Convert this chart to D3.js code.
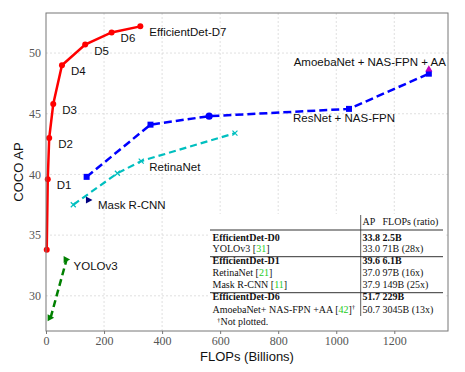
<!DOCTYPE html>
<meta charset="utf-8">
<script src="https://d3js.org/d3.v7.min.js"></script>
<style>
  body { margin: 0; background: #fff; }
</style>
<div id="my_dataviz"></div>
<script>

// ---- data ----
var effFlops = [2.5, 6.1, 11, 25, 55, 135, 226, 325];
var effAP    = [33.8, 39.6, 43.0, 45.8, 49.0, 50.7, 51.7, 52.2];
var effLabels = ["", "D1", "D2", "D3", "D4", "D5", "D6", "EfficientDet-D7"];

var nasFlops = [140, 360, 562, 1044, 1319];
var nasAP    = [39.8, 44.1, 44.8, 45.4, 48.3];

var retinaFlops = [94, 246, 328, 651];
var retinaAP    = [37.5, 40.1, 41.1, 43.4];

var maskFlops = [148];
var maskAP    = [37.9];

var yoloFlops = [16, 71];
var yoloAP    = [28.2, 33.0];

var amoebaFlops = [1319];
var amoebaAP    = [48.65];

var xTicks = [0, 200, 400, 600, 800, 1000, 1200];
var yTicks = [30, 35, 40, 45, 50];

// inset table
var tableNames = ["EfficientDet-D0", "YOLOv3", "EfficientDet-D1", "RetinaNet", "Mask R-CNN", "EfficientDet-D6", "AmoebaNet+ NAS-FPN +AA"];
var tableCites = ["", "31", "", "21", "11", "", "42"];
var tableAP    = ["33.8", "33.0", "39.6", "37.0", "37.9", "51.7", "50.7"];
var tableFlops = ["2.5B", "71B (28x)", "6.1B", "97B (16x)", "149B (25x)", "229B", "3045B (13x)"];
var tableBold  = [true, false, true, false, false, true, false];

// ---- layout ----
var W = 465, H = 372;
var plot = {left: 46, right: 448, top: 13, bottom: 331};

var svg = d3.select("#my_dataviz")
  .append("svg")
    .attr("width", W)
    .attr("height", H);

var x = d3.scaleLinear().domain([0, 1385]).range([plot.left, plot.right]);
var y = d3.scaleLinear().domain([27.1, 53.3]).range([plot.bottom, plot.top]);

// grid
svg.append("g").selectAll("line")
  .data(xTicks.slice(1))
  .enter().append("line")
    .attr("x1", function(d) { return x(d); })
    .attr("x2", function(d) { return x(d); })
    .attr("y1", plot.top).attr("y2", plot.bottom)
    .style("stroke", "#d8d8d8").style("stroke-width", 0.8)
    .style("stroke-dasharray", "2,2");
svg.append("g").selectAll("line")
  .data(yTicks)
  .enter().append("line")
    .attr("y1", function(d) { return y(d); })
    .attr("y2", function(d) { return y(d); })
    .attr("x1", plot.left).attr("x2", plot.right)
    .style("stroke", "#d8d8d8").style("stroke-width", 0.8)
    .style("stroke-dasharray", "2,2");

// axes (tick labels in serif, grey)
var xAxis = svg.append("g")
  .attr("transform", "translate(0," + plot.bottom + ")")
  .call(d3.axisBottom(x).tickValues(xTicks).tickSize(3).tickPadding(2).tickFormat(d3.format("d")));
var yAxis = svg.append("g")
  .attr("transform", "translate(" + plot.left + ",0)")
  .call(d3.axisLeft(y).tickValues(yTicks).tickSize(0).tickPadding(5).tickFormat(d3.format("d")));
[xAxis, yAxis].forEach(function(a) {
  a.select(".domain").remove();
  a.selectAll("line").style("stroke", "#777");
  a.selectAll("text").style("font", "12px 'Liberation Serif'").style("fill", "#555");
});

// lines
var line = d3.line().x(function(d) { return x(d[0]); }).y(function(d) { return y(d[1]); });
function pairs(xs, ys) { return xs.map(function(v, i) { return [v, ys[i]]; }); }

var effData = pairs(effFlops, effAP),
    nasData = pairs(nasFlops, nasAP),
    retData = pairs(retinaFlops, retinaAP),
    yoloData = pairs(yoloFlops, yoloAP);

svg.append("path").datum(yoloData).attr("d", line)
  .style("fill", "none").style("stroke", "#008000").style("stroke-width", 2.5)
  .style("stroke-dasharray", "7,4");
svg.append("path").datum(retData).attr("d", line)
  .style("fill", "none").style("stroke", "#00bfbf").style("stroke-width", 2.2)
  .style("stroke-dasharray", "7,4");
svg.append("path").datum(nasData).attr("d", line)
  .style("fill", "none").style("stroke", "#0000ff").style("stroke-width", 2.5)
  .style("stroke-dasharray", "8,4");
svg.append("path").datum(effData).attr("d", line)
  .style("fill", "none").style("stroke", "#ff0000").style("stroke-width", 2.5);

// markers
svg.append("g").selectAll("circle").data(effData).enter().append("circle")
  .attr("cx", function(d) { return x(d[0]); })
  .attr("cy", function(d) { return y(d[1]); })
  .attr("r", 3).style("fill", "#ff0000");

svg.append("g").selectAll("path").data(nasData).enter().append("path")
  .attr("transform", function(d) { return "translate(" + x(d[0]) + "," + y(d[1]) + ")"; })
  .attr("d", function(d, i) { return d3.symbol().type(i == 2 ? d3.symbolCircle : d3.symbolSquare).size(i == 2 ? 40 : 36)(); })
  .style("fill", "#0000ff");

svg.append("g").selectAll("path").data(pairs(amoebaFlops, amoebaAP)).enter().append("path")
  .attr("transform", function(d) { return "translate(" + x(d[0]) + "," + y(d[1]) + ")"; })
  .attr("d", d3.symbol().type(d3.symbolTriangle).size(22)())
  .style("fill", "#c000c0");

svg.append("g").selectAll("g").data(retData).enter().append("path")
  .attr("transform", function(d) { return "translate(" + x(d[0]) + "," + y(d[1]) + ")"; })
  .attr("d", "M-2.5,-2.5L2.5,2.5M-2.5,2.5L2.5,-2.5")
  .style("stroke", "#00bfbf").style("stroke-width", 1.2);

// right-pointing triangles
var triRight = "M-3,-3.5L3.5,0L-3,3.5Z";
svg.append("g").selectAll("path").data(pairs(maskFlops, maskAP)).enter().append("path")
  .attr("transform", function(d) { return "translate(" + x(d[0]) + "," + y(d[1]) + ")"; })
  .attr("d", triRight).style("fill", "#000080");
svg.append("g").selectAll("path").data(yoloData).enter().append("path")
  .attr("transform", function(d) { return "translate(" + x(d[0]) + "," + y(d[1]) + ")"; })
  .attr("d", triRight).style("fill", "#008000");

// point labels
var lab = svg.append("g").style("font", "11.5px 'Liberation Sans'").style("fill", "#111");
effData.forEach(function(d, i) {
  if (!effLabels[i]) return;
  lab.append("text").attr("x", x(d[0]) + 9).attr("y", y(d[1]) + 10).text(effLabels[i]);
});
lab.append("text").attr("x", x(retData[2][0]) + 8).attr("y", y(retData[2][1]) + 10).text("RetinaNet");
lab.append("text").attr("x", x(maskFlops[0]) + 9).attr("y", y(maskAP[0]) + 9.5).text("Mask R-CNN");
lab.append("text").attr("x", x(yoloFlops[1]) + 7).attr("y", y(yoloAP[1]) + 11).text("YOLOv3");
lab.append("text").attr("x", x(nasFlops[3]) - 5).attr("y", y(nasAP[3]) + 13)
  .style("text-anchor", "middle").text("ResNet + NAS-FPN");
lab.append("text").attr("x", x(nasFlops[4]) + 17).attr("y", y(nasAP[4]) - 8)
  .style("text-anchor", "end").text("AmoebaNet + NAS-FPN + AA");

// inset table
var tb = svg.append("g").style("font", "10px 'Liberation Serif'").style("fill", "#111");
tb.append("rect").attr("x", 208).attr("y", 214).attr("width", 238).attr("height", plot.bottom - 214)
  .style("fill", "#fff");
var colName = 212.5, colAP = 362.5, colFl = 382.5;
var rowY = [240.7, 251.6, 263.5, 275.7, 287.7, 299.5, 312.5];
tb.append("text").attr("x", colAP).attr("y", 224.5).text("AP");
tb.append("text").attr("x", colFl).attr("y", 224.5).text("FLOPs (ratio)");
[230, 256.7, 292.7].forEach(function(r, i) {
  tb.append("line").attr("x1", 210).attr("x2", 443).attr("y1", r).attr("y2", r)
    .style("stroke", "#333").style("stroke-width", i == 0 ? 1.1 : 1);
});
tb.append("line").attr("x1", 360.7).attr("x2", 360.7).attr("y1", 215).attr("y2", 316)
  .style("stroke", "#333").style("stroke-width", 0.8);
tableNames.forEach(function(n, i) {
  var t = tb.append("text").attr("x", colName).attr("y", rowY[i])
    .style("font-weight", tableBold[i] ? "bold" : "normal");
  t.append("tspan").text(n);
  if (tableCites[i]) {
    t.append("tspan").text(" [");
    t.append("tspan").style("fill", "#22cc22").text(tableCites[i]);
    t.append("tspan").text("]");
  }
  if (i == 6) t.append("tspan").attr("dy", -3.5).style("font-size", "7px").text("\u2020");
  tb.append("text").attr("x", colAP).attr("y", rowY[i])
    .style("font-weight", tableBold[i] ? "bold" : "normal").text(tableAP[i]);
  tb.append("text").attr("x", colFl).attr("y", rowY[i])
    .style("font-weight", tableBold[i] ? "bold" : "normal").text(tableFlops[i]);
});
var fn = tb.append("text").attr("x", 217).attr("y", 324.5);
fn.append("tspan").attr("dy", -3).style("font-size", "7px").text("\u2020");
fn.append("tspan").attr("dy", 3).text("Not plotted.");

// frame
svg.append("rect")
  .attr("x", plot.left).attr("y", plot.top)
  .attr("width", plot.right - plot.left).attr("height", plot.bottom - plot.top)
  .style("fill", "none").style("stroke", "#777").style("stroke-width", 1);

// axis titles
svg.append("text")
  .style("font", "13px 'Liberation Sans'").style("fill", "#111")
  .attr("transform", "translate(18.7," + ((plot.top + plot.bottom) / 2) + ") rotate(-90)")
  .attr("dy", "0.35em")
  .style("text-anchor", "middle")
  .text("COCO AP");
svg.append("text")
  .style("font", "13px 'Liberation Sans'").style("fill", "#111")
  .attr("x", (plot.left + plot.right) / 2).attr("y", 361)
  .style("text-anchor", "middle")
  .text("FLOPs (Billions)");

</script>
